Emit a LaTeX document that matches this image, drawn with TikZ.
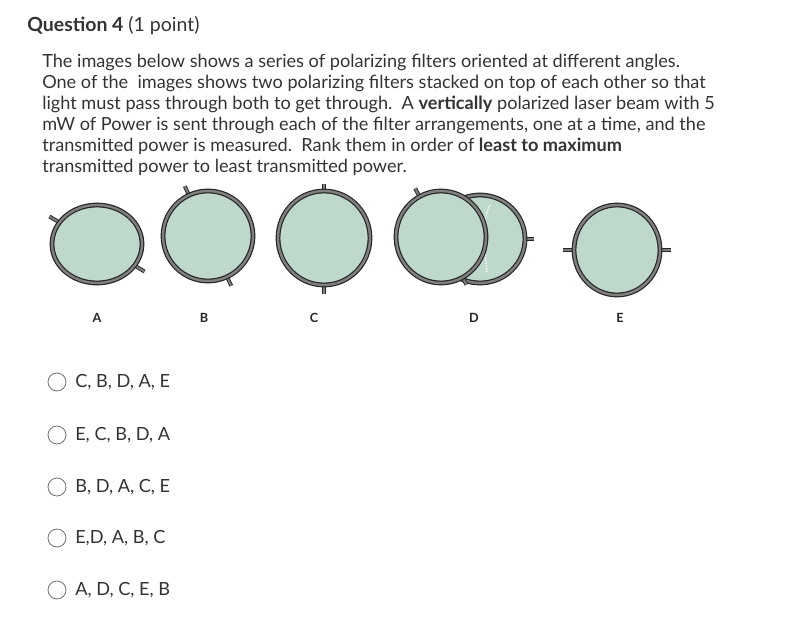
\documentclass[tikz,border=0pt]{standalone}
\usepackage{fontspec}
\setmainfont{Lato}
\begin{document}
\begin{tikzpicture}[x=0.75pt,y=-0.75pt,
  txt/.style={anchor=base west,inner sep=0pt,text=black!80,font=\fontsize{13.6}{16}\selectfont},
  lbl/.style={anchor=base,inner sep=0pt,text=black!85,font=\fontsize{9.5}{11}\selectfont\bfseries},
  ring/.style={draw=black!85,double=black!50,double distance=1.8pt,line width=0.9pt},
  tab/.style={draw=black!85,double=black!50,double distance=1.5pt,line width=0.7pt},
  radio/.style={circle,draw=black!55,line width=0.6pt,minimum size=13.5pt,inner sep=0pt}]
\useasboundingbox (0,0) rectangle (798,627);
\definecolor{filt}{HTML}{BFD8CC}
\tikzset{ring/.append style={fill=filt}}
\node[txt,font=\fontsize{14.6}{17}\selectfont] (q) at (27,32) {\textbf{Question 4} (1 point)};
\node[txt] (l1) at (42,68) {The images below shows a series of polarizing filters oriented at different angles.};
\node[txt] (l2) at (42,89) {One of the\ \ images shows two polarizing filters stacked on top of each other so that};
\node[txt] (l3) at (42,110) {light must pass through both to get through.\ \ A \textbf{vertically} polarized laser beam with 5};
\node[txt] (l4) at (42,131) {mW of Power is sent through each of the filter arrangements, one at a time, and the};
\node[txt] (l5) at (42,152) {transmitted power is measured.\ \ Rank them in order of \textbf{least to maximum}};
\node[txt] (l6) at (42,173) {transmitted power to least transmitted power.};
% A
\draw[tab] (97,244)+(-150:44) -- +(-150:55);
\draw[tab] (97,244)+(30:44) -- +(30:55);
\draw[ring] (97,244) ellipse (45 and 39);
% B
\draw[tab] (208,236)+(-115:44) -- +(-115:55);
\draw[tab] (208,236)+(65:44) -- +(65:55);
\draw[ring] (208,236) ellipse (45 and 45);
% C
\draw[tab] (324,238)+(-90:44) -- +(-90:54);
\draw[tab] (324,238)+(90:44) -- +(90:56);
\draw[ring] (324,238) ellipse (46 and 47);
% D back
\draw[tab] (480,239)+(0:44) -- +(0:54);
\draw[ring] (480,239) ellipse (45 and 44);
\draw[white,line width=1pt,densely dotted] (490,205) .. controls (480,225) and (485,250) .. (487,272);
% D front
\draw[tab] (441,237)+(-118:44) -- +(-118:55);
\draw[tab] (441,237)+(62:42) -- +(62:54);
\draw[ring] (441,237) ellipse (45 and 46);
% E
\draw[tab] (617,250)+(0:42) -- +(0:54);
\draw[tab] (617,250)+(180:42) -- +(180:54);
\draw[ring] (617,250) ellipse (43 and 45);
\node[lbl] (la) at (97,322) {A};
\node[lbl] (lb) at (204,322) {B};
\node[lbl] (lc) at (314,322) {C};
\node[lbl] (ld) at (474,322) {D};
\node[lbl] (le) at (620,322) {E};
\foreach \y/\t [count=\i] in {382/{C, B, D, A, E},435/{E, C, B, D, A},487/{B, D, A, C, E},538/{E,D, A, B, C},590/{A, D, C, E, B}}{
  \node[radio] (r\i) at (57,\y) {};
  \node[txt,anchor=west] (o\i) at (75,\y) {\t};
}
\end{tikzpicture}
\end{document}
